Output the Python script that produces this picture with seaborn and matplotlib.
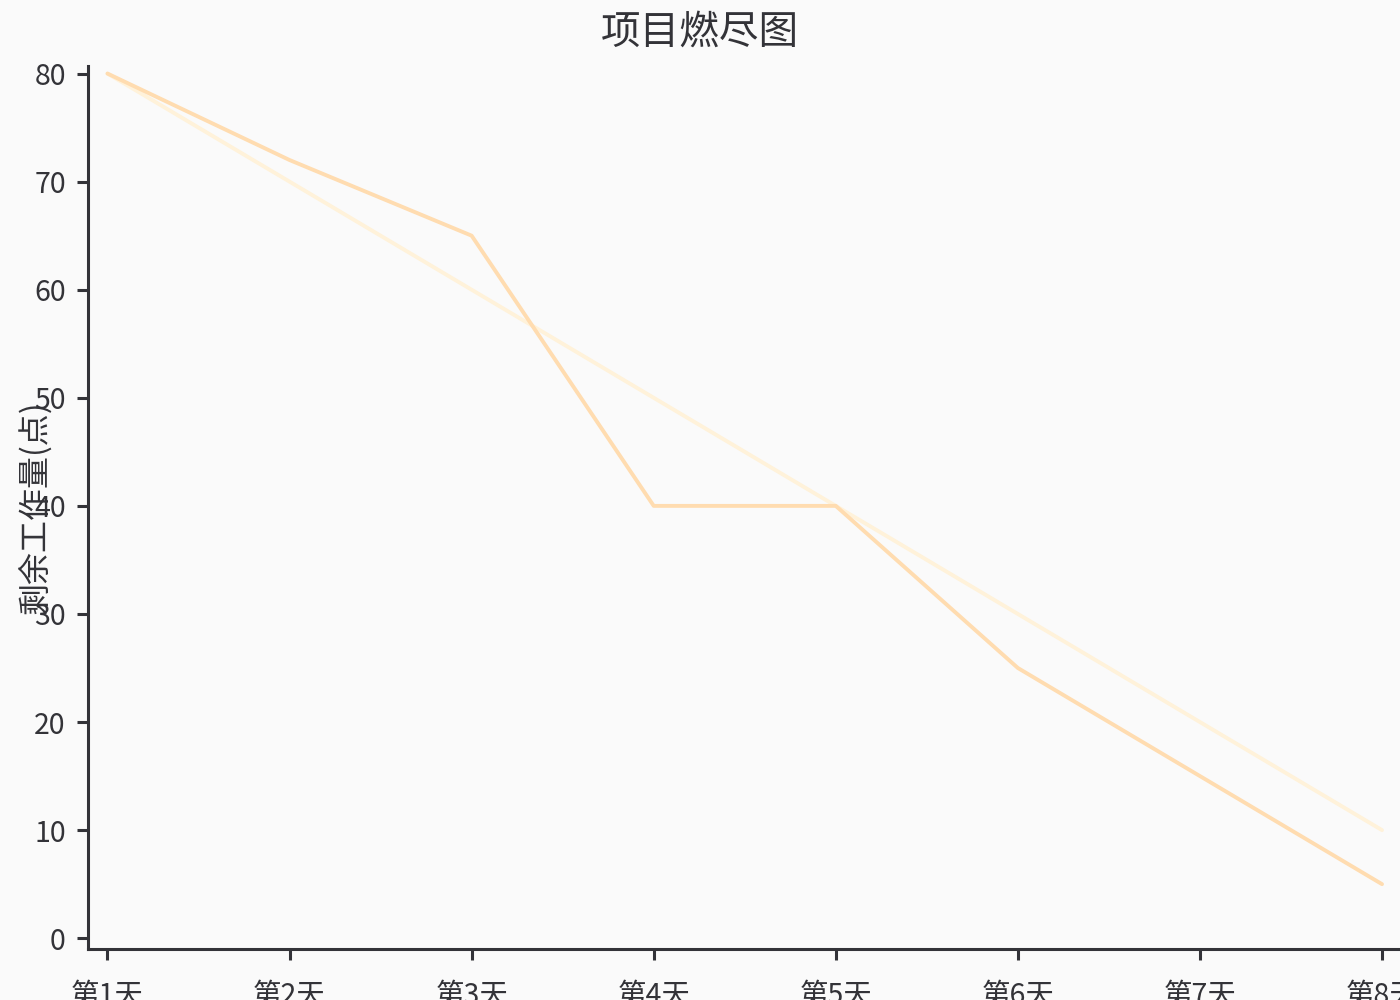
import pandas as pd
import matplotlib
matplotlib.use("Agg")
import matplotlib.pyplot as plt
import seaborn as sns

# dados do burndown
dias = ['第1天', '第2天', '第3天', '第4天', '第5天', '第6天', '第7天', '第8天']
ideal = [80, 70, 60, 50, 40, 30, 20, 10]
real = [80, 72, 65, 40, 40, 25, 15, 5]
series = ['理想', '实际']
cores = {'理想': '#FFF2DA', '实际': '#FFDCB0'}

df = pd.DataFrame({
    'dia': list(range(len(dias))) * 2,
    'valor': ideal + real,
    'serie': [series[0]] * len(dias) + [series[1]] * len(dias),
})

sns.set_theme(style='ticks')
plt.rcParams['font.family'] = ['Noto Sans CJK SC', 'DejaVu Sans']
plt.rcParams['axes.unicode_minus'] = False

texto = '#333338'
fig = plt.figure(figsize=(14, 10), dpi=100, facecolor='#FAFAFA')
ax = fig.add_axes([88 / 1400, 0.051, 1313.5 / 1400, 0.883])
ax.set_facecolor('#FAFAFA')

sns.lineplot(data=df, x='dia', y='valor', hue='serie', palette=cores,
             linewidth=2.8, legend=False, ax=ax)

ax.set_xlim(-0.107, 7.107)
ax.set_ylim(-1, 80.7)
ax.set_xticks(range(len(dias)))
ax.set_xticklabels(dias)
ax.set_yticks(range(0, 81, 10))

for lado in ['top', 'right']:
    ax.spines[lado].set_visible(False)
for lado in ['left', 'bottom']:
    ax.spines[lado].set_linewidth(2.2)
    ax.spines[lado].set_color(texto)

ax.tick_params(axis='both', colors=texto, labelsize=20.5, width=2.2, length=8)
ax.tick_params(axis='x', pad=15)
ax.tick_params(axis='y', pad=8)

ax.set_xlabel('')
ax.set_ylabel('剩余工作量(点)', fontsize=23, color=texto)
ax.yaxis.set_label_coords(-0.028, 0.50)
ax.set_title('项目燃尽图', fontsize=28.5, color=texto, pad=16, x=0.466)

fig.savefig('out.png', dpi=100, facecolor=fig.get_facecolor())
